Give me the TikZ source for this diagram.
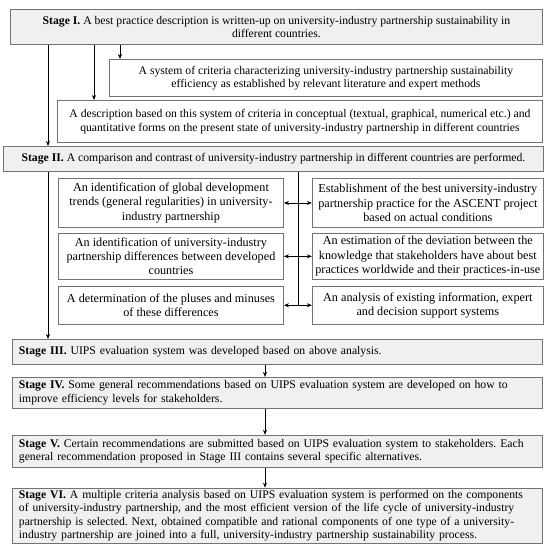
\documentclass[tikz,border=0pt]{standalone}
\usepackage{fontspec}
\setmainfont{Liberation Serif}
\frenchspacing
\usetikzlibrary{arrows.meta,positioning}

\begin{document}
\begin{tikzpicture}[
  x=1pt, y=-1pt,
  font=\fontsize{11.7}{13.4}\selectfont,
  stage/.style={draw=black!55, line width=0.9pt, fill=black!6, inner sep=0pt, align=center},
  stagel/.style={stage, align=left, text width=517pt, inner xsep=6.5pt, minimum width=530pt},
  box/.style={draw=black!55, line width=0.9pt, fill=white, inner sep=0pt, align=center},
  cell/.style={box, font=\fontsize{12.2}{14.4}\selectfont},
  arrow/.style={-{Stealth[length=5pt, width=4pt]}, line width=0.8pt},
  both/.style={{Stealth[length=5pt, width=4pt]}-{Stealth[length=5pt, width=4pt]}, line width=0.8pt}
]
\useasboundingbox (0,0) rectangle (550,545);

% stage I and its two outputs
\node[stage, anchor=north west, minimum width=532pt, minimum height=35pt] (s1) at (10,9)
  {\textbf{Stage I.} A best practice description is written-up on university-industry partnership sustainability in\\ different countries.};
\node[box, anchor=north west, minimum width=433pt, minimum height=37pt] (crit) at (109,59)
  {A system of criteria characterizing university-industry partnership sustainability\\ efficiency as established by relevant literature and expert methods};
\node[box, anchor=north west, minimum width=485pt, minimum height=42pt] (desc) at (57,100)
  {A description based on this system of criteria in conceptual (textual, graphical, numerical etc.) and\\ quantitative forms on the present state of university-industry partnership in different countries};

% stage II
\node[stage, anchor=north west, minimum width=540pt, minimum height=25pt] (s2) at (3,146)
  {\textbf{Stage II.} A comparison and contrast of university-industry partnership in different countries are performed.};
\node[cell, anchor=north west, minimum width=225pt, minimum height=49pt] (l1) at (58,178)
  {An identification of global development\\ trends (general regularities) in university-\\ industry partnership};
\node[cell, below=5pt of l1, minimum width=225pt, minimum height=46pt] (l2)
  {An identification of university-industry\\ partnership differences between developed\\ countries};
\node[cell, below=6pt of l2, minimum width=225pt, minimum height=38pt] (l3)
  {A determination of the pluses and minuses\\ of these differences};
\node[cell, right=28pt of l1, minimum width=231pt, minimum height=49pt] (r1)
  {Establishment of the best university-industry\\ partnership practice for the ASCENT project\\ based on actual conditions};
\node[cell, right=28pt of l2, minimum width=231pt, minimum height=46pt] (r2)
  {An estimation of the deviation between the\\ knowledge that stakeholders have about best\\ practices worldwide and their practices-in-use};
\node[cell, right=28pt of l3, minimum width=231pt, minimum height=38pt] (r3)
  {An analysis of existing information, expert\\ and decision support systems};

% stages III to VI
\node[stagel, anchor=north west, minimum height=25pt] (s3) at (12,339)
  {\textbf{Stage III.} UIPS evaluation system was developed based on above analysis.};
\node[stagel, below=12pt of s3, minimum height=31pt] (s4)
  {\textbf{Stage IV.} Some general recommendations based on UIPS evaluation system are developed on how to\\ improve efficiency levels for stakeholders.};
\node[stagel, below=26pt of s4, minimum height=32pt] (s5)
  {\textbf{Stage V.} Certain recommendations are submitted based on UIPS evaluation system to stakeholders. Each\\ general recommendation proposed in Stage III contains several specific alternatives.};
\node[stagel, below=20pt of s5, minimum height=55pt] (s6)
  {\textbf{Stage VI.} A multiple criteria analysis based on UIPS evaluation system is performed on the components\\ of university-industry partnership, and the most efficient version of the life cycle of university-industry\\ partnership is selected. Next, obtained compatible and rational components of one type of a university-\\ industry partnership are joined into a full, university-industry partnership sustainability process.};

% connectors
\draw[arrow] ([xshift=38pt]s1.south west) -- ([xshift=38pt]s1.south west |- s2.north);
\draw[arrow] ([xshift=84pt]s1.south west) -- ([xshift=84pt]s1.south west |- desc.north);
\draw[arrow] ([xshift=110pt]s1.south west) -- ([xshift=110pt]s1.south west |- crit.north);
\draw[arrow] ([xshift=45pt]s2.south west) -- ([xshift=45pt]s2.south west |- s3.north);

\path (l1.east) -- (r1.west) coordinate[pos=0.5] (bus);
\draw[line width=0.8pt] (bus |- s2.south) -- (bus |- l3.east);
\foreach \i in {1,2,3}
  \draw[both] (l\i.east) -- (r\i.west);

\draw[arrow] ([xshift=253pt]s3.south west) -- ([xshift=253pt]s3.south west |- s4.north);
\draw[arrow] ([xshift=253pt]s4.south west) -- ([xshift=253pt]s4.south west |- s5.north);
\draw[arrow] ([xshift=253pt]s5.south west) -- ([xshift=253pt]s5.south west |- s6.north);
\end{tikzpicture}
\end{document}
